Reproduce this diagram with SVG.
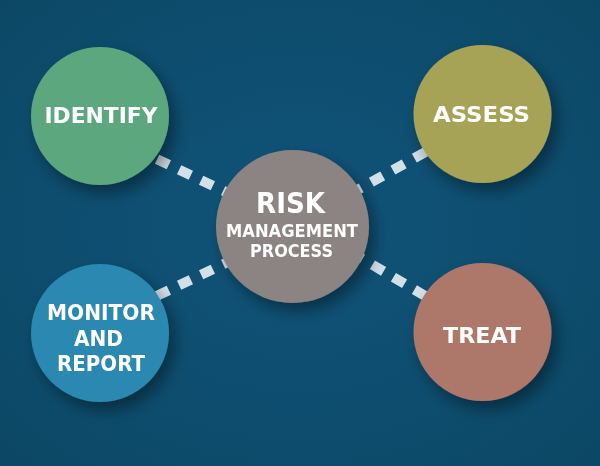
<svg xmlns="http://www.w3.org/2000/svg" width="600" height="466" viewBox="0 0 600 466">
  <defs>
    <radialGradient id="bg" cx="50%" cy="48%" r="70%">
      <stop offset="0" stop-color="#10547a"/>
      <stop offset="1" stop-color="#0c4866"/>
    </radialGradient>
    <filter id="sh" x="-30%" y="-30%" width="170%" height="170%">
      <feGaussianBlur in="SourceAlpha" stdDeviation="8"/>
      <feOffset dx="6" dy="8" result="b"/>
      <feComponentTransfer><feFuncA type="linear" slope="0.4"/></feComponentTransfer>
      <feMerge><feMergeNode/><feMergeNode in="SourceGraphic"/></feMerge>
    </filter>
  </defs>
  <style>
    .dash { stroke: #d3e0e8; stroke-width: 10; fill: none; }
    .lbl { font-family: "DejaVu Sans", "Liberation Sans", sans-serif; font-weight: bold; fill: #ffffff; text-anchor: middle; }
  </style>
  <rect width="600" height="466" fill="url(#bg)"/>
  <g id="connectors">
    <line class="dash" x1="113.1" y1="138.2" x2="234.9" y2="196.3" stroke-dasharray="13 11.38"/>
    <line class="dash" x1="468.7" y1="127.8" x2="349.8" y2="194.2" stroke-dasharray="13 11.62"/>
    <line class="dash" x1="113.1" y1="316.8" x2="234.9" y2="258.7" stroke-dasharray="13 11.38"/>
    <line class="dash" x1="467.6" y1="321.3" x2="351.4" y2="252.2" stroke-dasharray="13 11.44"/>
  </g>
  <g id="identify" filter="url(#sh)">
    <circle cx="100" cy="116" r="69" fill="#5ba77e"/>
    <text class="lbl" x="101" y="123" font-size="21" textLength="113" lengthAdjust="spacingAndGlyphs">IDENTIFY</text>
  </g>
  <g id="assess" filter="url(#sh)">
    <circle cx="482.5" cy="114" r="69" fill="#a6a257"/>
    <text class="lbl" x="481.5" y="122" font-size="22" textLength="97" lengthAdjust="spacingAndGlyphs">ASSESS</text>
  </g>
  <g id="monitor" filter="url(#sh)">
    <circle cx="100" cy="333" r="69" fill="#2a88b1"/>
    <text class="lbl" x="101" y="320" font-size="21" textLength="108" lengthAdjust="spacingAndGlyphs">MONITOR</text>
    <text class="lbl" x="98.5" y="346" font-size="21" textLength="49" lengthAdjust="spacingAndGlyphs">AND</text>
    <text class="lbl" x="101" y="371" font-size="21" textLength="88" lengthAdjust="spacingAndGlyphs">REPORT</text>
  </g>
  <g id="treat" filter="url(#sh)">
    <circle cx="482.5" cy="332" r="69" fill="#ad786a"/>
    <text class="lbl" x="482" y="343" font-size="22" textLength="78" lengthAdjust="spacingAndGlyphs">TREAT</text>
  </g>
  <g id="center" filter="url(#sh)">
    <circle cx="292.5" cy="226.5" r="76.5" fill="#8b8482"/>
    <text class="lbl" x="290.5" y="213" font-size="29" textLength="69" lengthAdjust="spacingAndGlyphs">RISK</text>
    <text class="lbl" x="292" y="237" font-size="17.5" textLength="132" lengthAdjust="spacingAndGlyphs">MANAGEMENT</text>
    <text class="lbl" x="291.5" y="257" font-size="17.5" textLength="83" lengthAdjust="spacingAndGlyphs">PROCESS</text>
  </g>
</svg>
